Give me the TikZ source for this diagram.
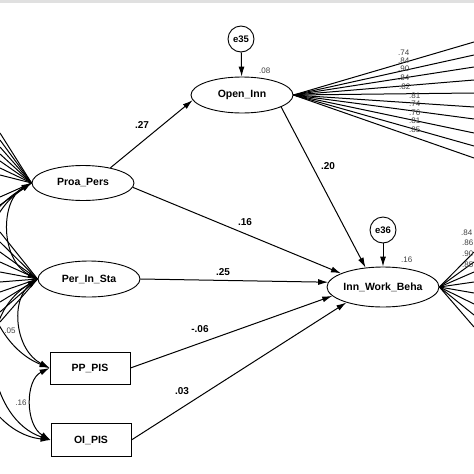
\documentclass[tikz,border=0pt]{standalone}
\usepackage{fontspec}
\setmainfont{Liberation Sans}
\usetikzlibrary{shapes.geometric,arrows.meta}

\tikzset{
  latent/.style={draw,line width=0.9pt,ellipse,minimum width=102pt,minimum height=36pt,inner sep=0pt,font=\fontsize{10.5}{12}\selectfont\bfseries},
  observed/.style={draw,line width=0.8pt,rectangle,minimum width=80pt,minimum height=32pt,inner sep=0pt,font=\fontsize{10.5}{12}\selectfont\bfseries},
  resid/.style={draw,line width=0.9pt,circle,minimum size=26pt,inner sep=0pt,font=\fontsize{9.5}{11}\selectfont\bfseries},
  regpath/.style={-{Latex[length=10pt,width=6pt]},line width=1pt},
  cov/.style={{Latex[length=10pt,width=6pt]}-{Latex[length=10pt,width=6pt]},line width=1pt},
  load/.style={line width=1pt},
  coef/.style={font=\fontsize{10}{11}\selectfont\bfseries,inner sep=0pt},
  est/.style={font=\fontsize{8}{9}\selectfont,text=black!75,inner sep=0pt},
}

\begin{document}
\begin{tikzpicture}[x=1pt,y=-1pt]
    \useasboundingbox (0,0) rectangle (474,474);
    \clip (0,0) rectangle (474,474);
    \fill[black!12] (0,0) rectangle (474,2.5);

    % variables
    \node[latent] (Open_Inn) at (242,95) {Open\_Inn};
    \node[latent,minimum height=35pt] (Proa_Pers) at (83,183) {Proa\_Pers};
    \node[latent] (Per_In_Sta) at (89,279) {Per\_In\_Sta};
    \node[latent,minimum width=100pt,minimum height=40pt] (Inn_Work_Beha) at (383,287) {Inn\_Work\_Beha};
    \node[observed] (PP_PIS) at (90,368) {PP\_PIS};
    \node[observed,minimum height=33pt] (OI_PIS) at (91,440) {OI\_PIS};
    \node[resid] (e35) at (241,39) {e35};
    \node[resid] (e36) at (383,230) {e36};

    % squared multiple correlations
    \node[est,anchor=west] (r2oi) at (259,71) {.08};
    \node[est,anchor=west] (r2iwb) at (401,260) {.16};

    % loadings
    \foreach \y [count=\i] in {42,55,67,80,93,107,119,133,146,158} {
        \coordinate (oi\i) at (474,\y);
        \draw[load] (Open_Inn.east) -- (oi\i);
    }
    \foreach \lab/\x/\y [count=\i] in {.74/398/53,.84/398/61,.90/398/69,.84/398/78,.82/399/87,.81/409/96,.74/409/104,.76/409/113,.81/409/121,.85/409/130}
        \node[est,anchor=west] (oil\i) at (\x,\y) {\lab};

    \foreach \y [count=\i] in {252,262,272,282,293,304,315,327} {
        \coordinate (iwb\i) at (474,\y);
        \draw[load] (Inn_Work_Beha.east) -- (iwb\i);
    }
    \foreach \lab/\x/\y [count=\i] in {.84/461/233,.86/462/243,.90/462/254,.85/462/265}
        \node[est,anchor=west] (iwbl\i) at (\x,\y) {\lab};

    \foreach \y [count=\i] in {133,140,147,154,161,168,175,197,205} {
        \coordinate (pp\i) at (0,\y);
        \draw[load] (Proa_Pers.west) -- (pp\i);
    }
    \foreach \y [count=\i] in {232,242,252,262,272,282,292,302,312,322} {
        \coordinate (pis\i) at (0,\y);
        \draw[load] (Per_In_Sta.west) -- (pis\i);
    }

    % covariances
    \draw[cov] (Proa_Pers.west) .. controls (0,200) and (0,260) .. (Per_In_Sta.west);
    \draw[cov] (Proa_Pers.west) .. controls (-40,230) and (-20,340) .. (PP_PIS.west);
    \draw[cov] (Proa_Pers.west) .. controls (-80,250) and (-40,430) .. (OI_PIS.west);
    \draw[cov] (Per_In_Sta.west) .. controls (10,300) and (15,350) .. (PP_PIS.west);
    \draw[cov] (Per_In_Sta.west) .. controls (-30,320) and (-10,420) .. (OI_PIS.west);
    \draw[cov] (PP_PIS.west) .. controls (25,380) and (25,425) .. (OI_PIS.west);
    \node[est] (c05) at (10,331) {.05};
    \node[est] (c16) at (21,403) {.16};

    % structural paths
    \draw[regpath] (e35) -- (Open_Inn);
    \draw[regpath] (e36) -- (Inn_Work_Beha);
    \draw[regpath] (Proa_Pers.29) -- (Open_Inn.186);
    \draw[regpath] (Proa_Pers.355) -- (Inn_Work_Beha.162);
    \draw[regpath] (Open_Inn.343) -- (Inn_Work_Beha.132);
    \draw[regpath] (Per_In_Sta.east) -- (Inn_Work_Beha.175);
    \draw[regpath] (PP_PIS.east) -- (Inn_Work_Beha.190);
    \draw[regpath] (OI_PIS.east) -- (Inn_Work_Beha.203);

    \node[coef] (b27) at (142,125) {.27};
    \node[coef] (b16) at (245,222) {.16};
    \node[coef] (b20) at (328,166) {.20};
    \node[coef] (b25) at (223,272) {.25};
    \node[coef] (b06) at (200,329) {-.06};
    \node[coef] (b03) at (182,391) {.03};
\end{tikzpicture}
\end{document}
